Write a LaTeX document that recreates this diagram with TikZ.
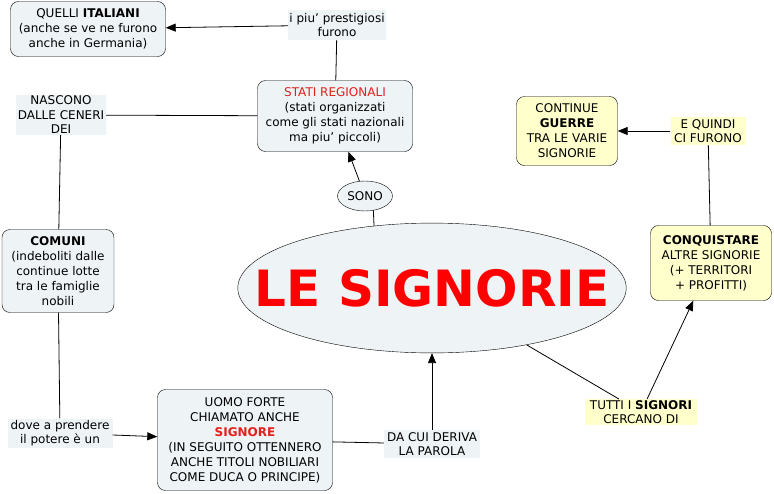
\documentclass[tikz,border=0pt]{standalone}
\usepackage{fontspec}
\setmainfont{DejaVu Sans}
\usepackage{xcolor}
\usetikzlibrary{shapes.geometric, arrows.meta}
\definecolor{paleblue}{HTML}{EEF3F6}
\definecolor{paleyellow}{HTML}{FFFFCC}
\definecolor{softred}{HTML}{E3201B}
\tikzset{
  box/.style={rectangle, rounded corners=8pt, draw=black, fill=paleblue, align=center, inner sep=2pt, font=\fontsize{12}{15}\selectfont},
  ybox/.style={box, fill=paleyellow},
  lbl/.style={rectangle, fill=paleblue, align=center, inner sep=1pt, font=\fontsize{12}{14.5}\selectfont},
  ylbl/.style={lbl, fill=paleyellow},
  oval/.style={ellipse, draw=black, fill=paleblue, inner sep=0pt, font=\fontsize{12}{15}\selectfont},
  arrow/.style={-{Triangle[length=10pt, width=8pt]}, thick},
  link/.style={thick},
}
\begin{document}
\begin{tikzpicture}[x=1pt, y=-1pt]
\useasboundingbox (0,0) rectangle (774,493);
% main concept
\node[oval, inner xsep=-40pt, inner ysep=27pt, minimum width=388pt, minimum height=128pt, font=\fontsize{50}{55}\selectfont\bfseries, text=red] (sig) at (432,288) {LE SIGNORIE};
\node[oval, minimum width=55pt, minimum height=30pt] (sono) at (365,196) {SONO};
% concepts
\node[box, minimum width=155pt, minimum height=55pt] (ital) at (88,29) {QUELLI \textbf{ITALIANI}\\(anche se ve ne furono\\anche in Germania)};
\node[box, minimum width=155pt, minimum height=71pt] (stati) at (335,116) {\textcolor{softred}{STATI REGIONALI}\\(stati organizzati\\come gli stati nazionali\\ma piu' piccoli)};
\node[box, minimum width=112pt, minimum height=83pt] (comuni) at (58,271) {\textbf{COMUNI}\\(indeboliti dalle\\continue lotte\\tra le famiglie\\nobili};
\node[box, minimum width=175pt, minimum height=101pt] (uomo) at (245,440) {UOMO FORTE\\CHIAMATO ANCHE\\\textcolor{softred}{\textbf{SIGNORE}}\\(IN SEGUITO OTTENNERO\\ANCHE TITOLI NOBILIARI\\COME DUCA O PRINCIPE)};
\node[ybox, minimum width=121pt, minimum height=75pt] (conq) at (711,263) {\textbf{CONQUISTARE}\\ALTRE SIGNORIE\\(+ TERRITORI\\+ PROFITTI)};
\node[ybox, minimum width=101pt, minimum height=69pt] (guerre) at (567,131) {CONTINUE\\\textbf{GUERRE}\\TRA LE VARIE\\SIGNORIE};
% linking phrases
\node[lbl, minimum width=95pt, minimum height=30pt] (prest) at (337,25) {i piu' prestigiosi\\furono};
\node[lbl, minimum width=90pt, minimum height=40pt] (nasc) at (61,115) {NASCONO\\DALLE CENERI\\DEI};
\node[lbl, minimum width=105pt, minimum height=29pt] (dove) at (60,433) {dove a prendere\\il potere è un};
\node[lbl, minimum width=96pt, minimum height=28pt] (deriva) at (432,444) {DA CUI DERIVA\\LA PAROLA};
\node[ylbl, minimum width=112pt, minimum height=25pt] (tutti) at (641,412) {TUTTI I \textbf{SIGNORI}\\CERCANO DI};
\node[ylbl, minimum width=75pt, minimum height=28pt] (quindi) at (708,131) {E QUINDI\\CI FURONO};
% connectors
\draw[link] (sig.133) -- (sono.-60);
\draw[arrow] (sono) -- (stati);
\draw[link] (stati) -- (prest);
\draw[arrow] (prest) -- (ital);
\draw[link] (stati) -- (nasc);
\draw[link] (nasc) -- (comuni);
\draw[link] (comuni) -- (dove);
\draw[arrow] (dove) -- (uomo);
\draw[link] (uomo) -- (deriva);
\draw[arrow] (deriva) -- (sig);
\draw[link] (sig.-31) -- (tutti);
\draw[arrow] (tutti) -- (conq);
\draw[link] (conq) -- (quindi);
\draw[arrow] (quindi) -- (guerre);
\end{tikzpicture}
\end{document}
